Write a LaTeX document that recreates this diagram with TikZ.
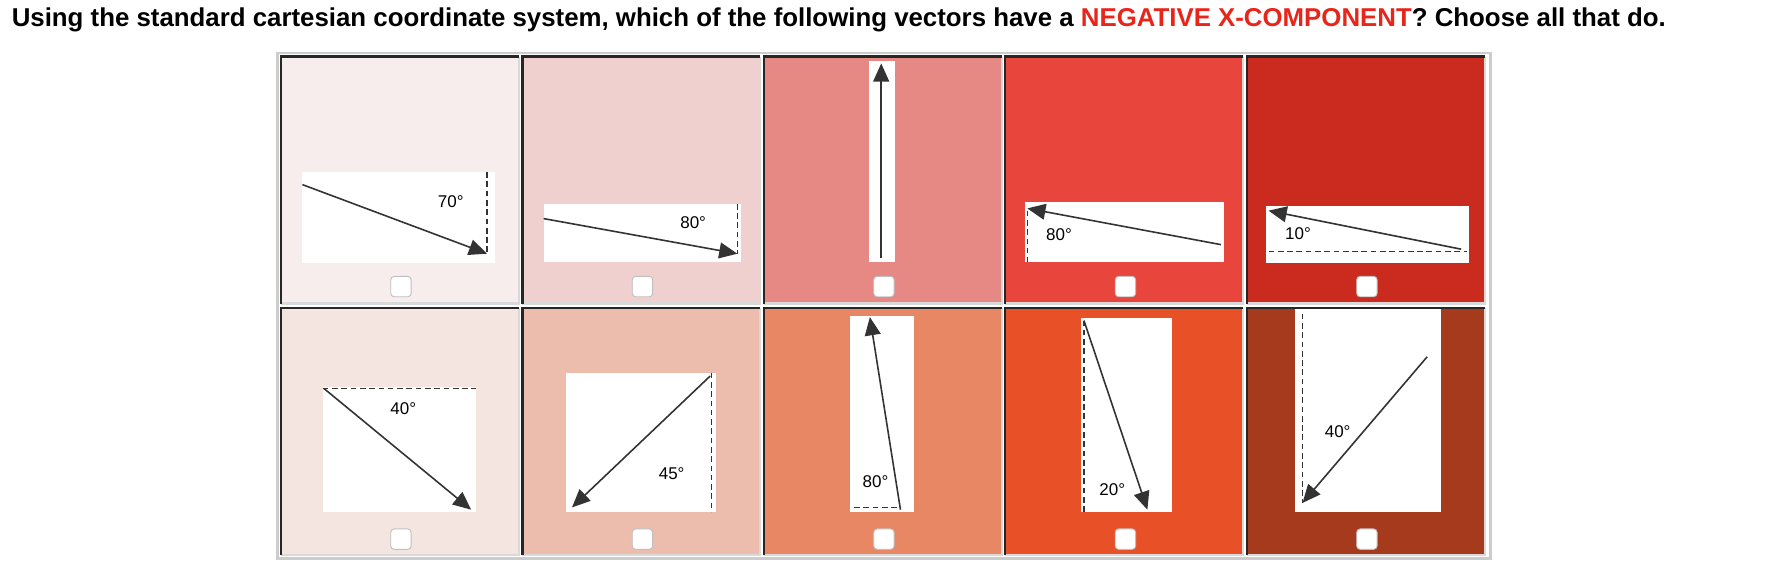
\documentclass[tikz,border=0pt]{standalone}
\usepackage{fontspec}
\setmainfont{Liberation Sans}
\usetikzlibrary{arrows.meta}
\definecolor{redt}{HTML}{E8251B}
\begin{document}
\begin{tikzpicture}[x=0.5pt,y=-0.5pt,
  vec/.style={draw=black!80,line width=0.7pt,-{Triangle[length=8pt,width=7pt]}},
  dsh/.style={draw=black!80,line width=0.7pt,dash pattern=on 2.5pt off 1.6pt},
  wbox/.style={fill=white,draw=none},
  lab/.style={font=\fontsize{7.5pt}{8pt}\selectfont,inner sep=0pt},
  chk/.style={fill=white,draw=black!25,rounded corners=1.5pt,line width=0.4pt}]
\useasboundingbox (0,0) rectangle (1568,517);
\node[anchor=west,inner sep=0pt,font=\fontsize{11.4pt}{12pt}\selectfont\bfseries] (title) at (10,18)
 {Using the standard cartesian coordinate system, which of the following vectors have a \textcolor{redt}{NEGATIVE X-COMPONENT}? Choose all that do.};
% frame
\draw[black!20,line width=1pt] (245,47) rectangle (1316,493);
\foreach \c [count=\i from 0] in {F7EDED,F0CFCF,E68883,E8453C,CB2B1F}{
  \definecolor{cc}{HTML}{\c}
  \fill[cc] (248+\i*213.2,50) rectangle (458+\i*213.2,268);
  \draw[black!15,line width=1pt] (248+\i*213.2,268) -- (458+\i*213.2,268) -- (458+\i*213.2,50);
  \draw[black!85,line width=1pt] (248+\i*213.2,268) -- (248+\i*213.2,50) -- (458+\i*213.2,50);
  \draw[chk] (345+\i*213.2,244) rectangle (363+\i*213.2,262);
}
\foreach \c [count=\i from 0] in {F5E5E0,ECBDAD,E88763,E85128,A63A1C}{
  \definecolor{cc}{HTML}{\c}
  \fill[cc] (248+\i*213.2,272) rectangle (458+\i*213.2,490);
  \draw[black!15,line width=1pt] (248+\i*213.2,490) -- (458+\i*213.2,490) -- (458+\i*213.2,272);
  \draw[black!85,line width=1pt] (248+\i*213.2,490) -- (248+\i*213.2,272) -- (458+\i*213.2,272);
  \draw[chk] (345+\i*213.2,467) rectangle (363+\i*213.2,485);
}
% R1C1
\fill[wbox] (267,152) rectangle (437,232);
\draw[dsh] (430,152) -- (430,224);
\draw[vec] (267,163) -- (430,224);
\node[lab] (l1) at (398,178) {70°};
% R1C2
\fill[wbox] (480,180) rectangle (654,231);
\draw[dsh] (651,180) -- (651,224);
\draw[vec] (480,193) -- (651,224);
\node[lab] (l2) at (612,197) {80°};
% R1C3
\fill[wbox] (767,54) rectangle (790,231);
\draw[vec] (778,228) -- (778,56);
% R1C4
\fill[wbox] (905,178) rectangle (1081,231);
\draw[dsh] (907,186) -- (907,231);
\draw[vec] (1078,216) -- (907,184);
\node[lab] (l4) at (935,207) {80°};
% R1C5
\fill[wbox] (1118,182) rectangle (1297,232);
\draw[dsh] (1120,222) -- (1295,222);
\draw[vec] (1290,220) -- (1120,186);
\node[lab] (l5) at (1146,206) {10°};
% R2C1
\fill[wbox] (285,342) rectangle (420,452);
\draw[dsh] (285,343) -- (420,343);
\draw[vec] (286,343) -- (416,450);
\node[lab] (l6) at (356,361) {40°};
% R2C2
\fill[wbox] (500,329) rectangle (632,452);
\draw[dsh] (628,329) -- (628,452);
\draw[vec] (627,332) -- (505,448);
\node[lab] (l7) at (593,418) {45°};
% R2C3
\fill[wbox] (750,279) rectangle (807,452);
\draw[dsh] (754,448) -- (795,448);
\draw[vec] (795,450) -- (768,280);
\node[lab] (l8) at (773,425) {80°};
% R2C4
\fill[wbox] (954,281) rectangle (1035,452);
\draw[dsh] (957,283) -- (957,452);
\draw[vec] (957,283) -- (1013,450);
\node[lab] (l9) at (982,432) {20°};
% R2C5
\fill[wbox] (1143,273) rectangle (1272,452);
\draw[dsh] (1150,277) -- (1150,444);
\draw[vec] (1260,315) -- (1150,444);
\node[lab] (l10) at (1181,381) {40°};
\end{tikzpicture}
\end{document}
